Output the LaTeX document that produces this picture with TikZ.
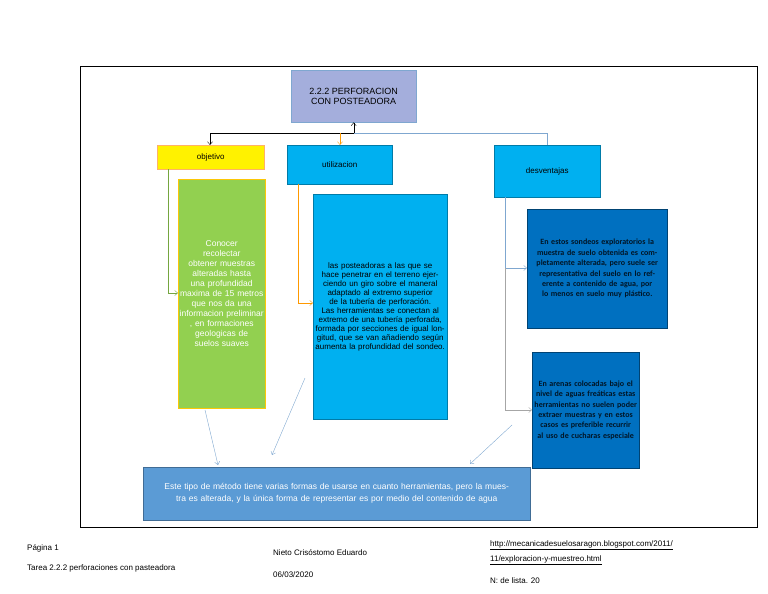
\documentclass[tikz,border=0pt]{standalone}
\usepackage{fontspec}
\setmainfont{Liberation Sans}
\newfontfamily\carl{Carlito}
\usetikzlibrary{arrows.meta}
\definecolor{lav}{HTML}{A4AEDC}
\definecolor{cy}{HTML}{00B0F0}
\definecolor{dk}{HTML}{0070C0}
\definecolor{gr}{HTML}{92D050}
\definecolor{bb}{HTML}{5B9BD5}
\definecolor{ln}{HTML}{7FA7D0}
\begin{document}
\begin{tikzpicture}[x=1pt,y=-1pt,
 box/.style={draw,inner sep=1pt,align=center,font=\fontsize{8}{9}\selectfont},
 tip/.style={-{Straight Barb[length=3pt,width=5pt]}},
 thin2/.style={draw=ln,line width=0.4pt}]
\useasboundingbox (0,0) rectangle (768,594);
\draw[line width=0.8pt] (80,66) rectangle (757,527);
\node[box,draw=ln,fill=lav,minimum width=125pt,minimum height=52pt,anchor=north west,font=\fontsize{9}{10}\selectfont] (t) at (291,70) {2.2.2 PERFORACION\\CON POSTEADORA};
\node[box,draw=orange!60,fill=yellow,minimum width=107pt,minimum height=24pt,anchor=north west] (o) at (157,145) {objetivo};
\node[box,draw=cy!70!black,fill=cy,minimum width=105pt,minimum height=39pt,anchor=north west] (u) at (287,145) {utilizacion};
\node[box,draw=cy!70!black,fill=cy,minimum width=106pt,minimum height=52pt,anchor=north west] (d) at (494,145) {desventajas};
\node[box,draw=yellow!60!orange,fill=gr,text=white,text width=85pt,minimum height=229pt,anchor=north west,font=\fontsize{8.5}{10}\selectfont] (g) at (178,179) {Conocer\\ recolectar\\ obtener muestras alteradas hasta una profundidad maxima de 15 metros que nos da una informacion preliminar , en formaciones geologicas de suelos suaves};
\node[box,draw=cy!70!black,fill=cy,text width=132pt,minimum height=225pt,anchor=north west] (m) at (313,194) {las posteadoras a las que se hace penetrar en el terreno ejerciendo un giro sobre el maneral adaptado al extremo superior de la tubería de perforación.\\Las herramientas se conectan al extremo de una tubería perforada, formada por secciones de igual longitud, que se van añadiendo según aumenta la profundidad del sondeo.};
\node[box,draw=dk!60!black,fill=dk,text width=138pt,minimum height=119pt,anchor=north west,font=\carl\bfseries\fontsize{8}{10.4}\selectfont,text=black!80!dk] (e1) at (527,209) {En estos sondeos exploratorios la muestra de suelo obtenida es completamente alterada, pero suele ser representativa del suelo en lo referente a contenido de agua, por lo menos en suelo muy plástico.};
\node[box,draw=dk!60!black,fill=dk,text width=105pt,minimum height=116pt,anchor=north west,font=\carl\bfseries\fontsize{8}{10.4}\selectfont,text=black!80!dk] (e2) at (532,352) {En arenas colocadas bajo el nivel de aguas freáticas estas herramientas no suelen poder extraer muestras y en estos casos es preferible recurrir al uso de cucharas especiale};
\node[box,draw=bb!70!black,fill=bb,text=white,text width=385pt,minimum height=53pt,anchor=north west,font=\fontsize{8.5}{12}\selectfont] (b) at (143,467) {Este tipo de método tiene varias formas de usarse en cuanto herramientas, pero la muestra es alterada, y la única forma de representar es por medio del contenido de agua};
% connectors
\coordinate (j) at (t.south |- 0,133);
\draw[thin2] (j) -- (d.north |- j) -- (d.north);
\draw[tip] (j) -- (t.south);
\draw[tip] (j) -- (210,133) -- (210,145);
\draw[tip,draw=orange!80!yellow] (340,133) -- (340,145);
\draw[tip,draw=gr!80!black] (168,169) -- (168,293) -- (g.west |- 0,293);
\draw[tip,draw=orange!80!yellow] (298,184) -- (298,303) -- (m.west |- 0,303);
\draw[tip,draw=ln] (505,197) -- (505,268) -- (e1.west |- 0,268);
\draw[tip,draw=gray!70] (505,268) -- (505,410) -- (e2.west |- 0,410);
\draw[tip,thin2] (205,410) -- (218,465);
\draw[tip,thin2] (305,378) -- (272,455);
\draw[tip,thin2] (512,425) -- (470,464);
% footer
\begin{scope}[every node/.style={anchor=west,inner sep=0,font=\fontsize{8}{9}\selectfont}]
\node (f1) at (27,548) {Página 1};
\node (f2) at (27,568) {Tarea 2.2.2 perforaciones con pasteadora};
\node (f3) at (273,553) {Nieto Crisóstomo Eduardo};
\node (f4) at (273,575) {06/03/2020};
\node (f5) at (490,545) {\underline{http://mecanicadesuelosaragon.blogspot.com/2011/}};
\node (f6) at (490,560) {\underline{11/exploracion-y-muestreo.html}};
\node (f7) at (490,581) {N: de lista. 20};
\end{scope}
\end{tikzpicture}
\end{document}
